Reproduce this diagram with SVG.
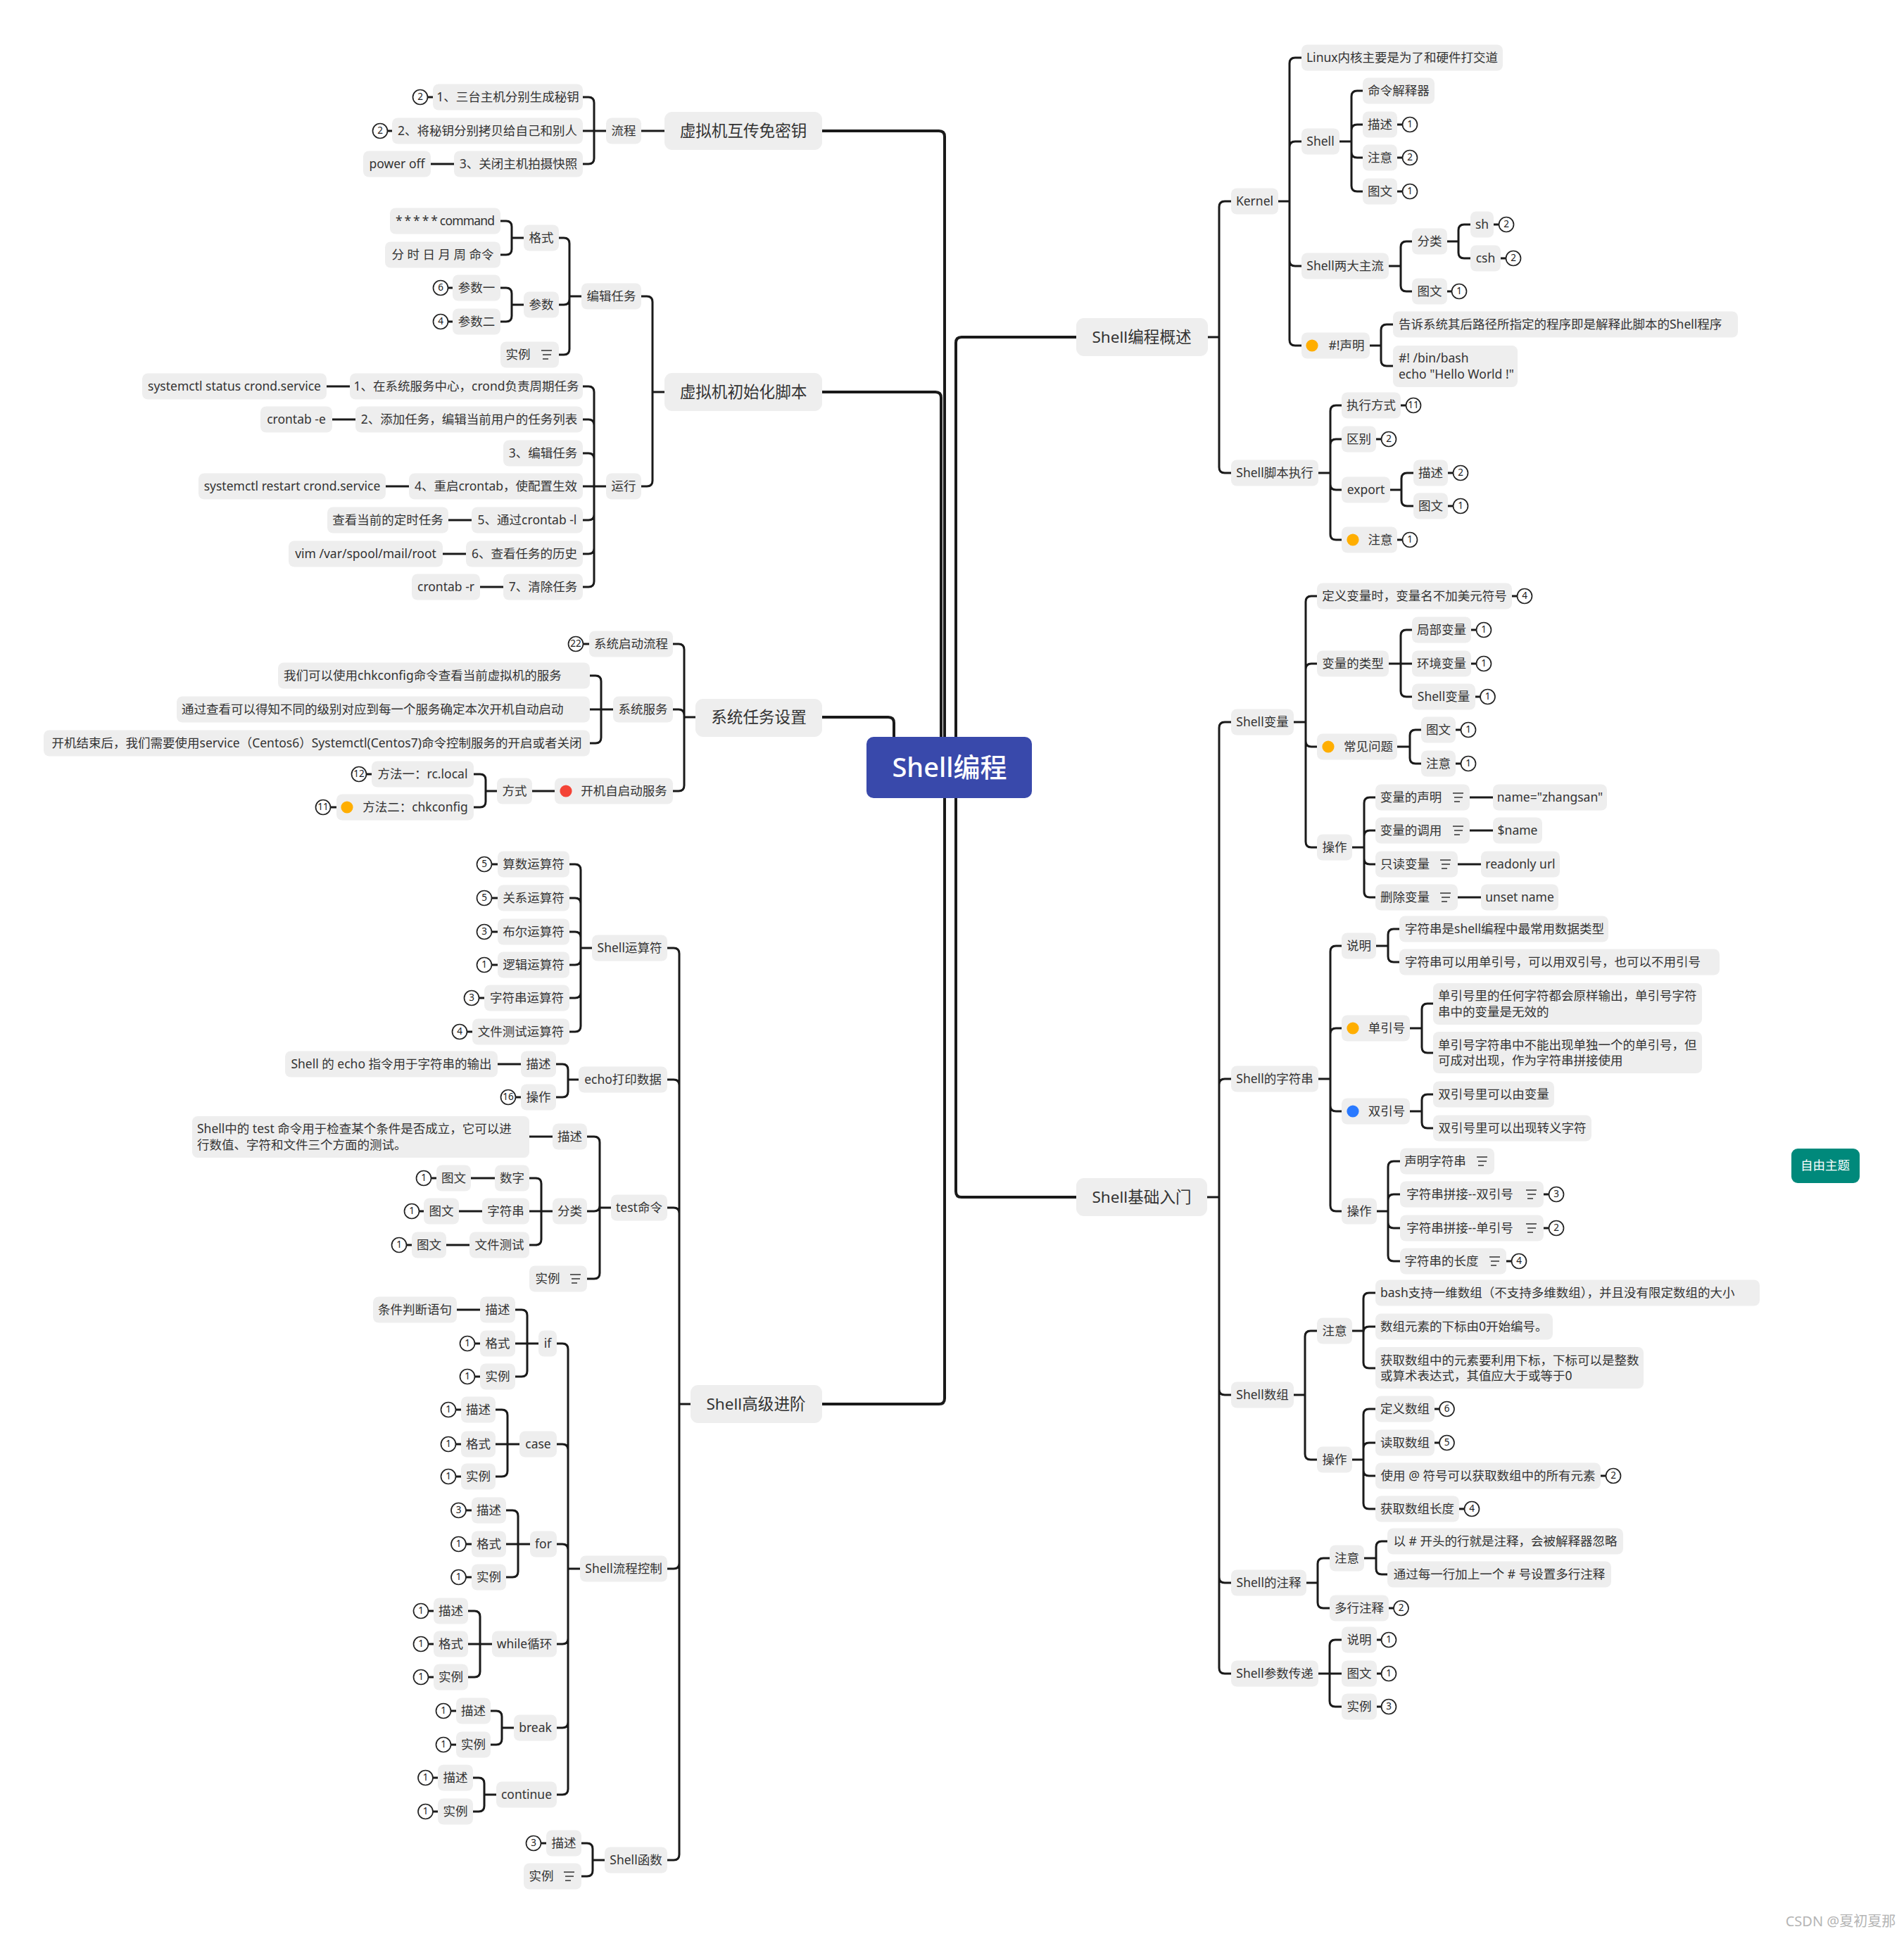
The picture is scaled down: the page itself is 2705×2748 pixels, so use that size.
<svg xmlns="http://www.w3.org/2000/svg" width="2705" height="2748" viewBox="0 0 2705 2748">
<style>
text{font-family:"Noto Sans","Noto Sans CJK SC",sans-serif;dominant-baseline:central;text-anchor:middle;fill:#333;font-size:17.5px;transform:translateY(-1px)}
.s{text-anchor:start}
.b{fill:#eee;rx:8px;height:37px}
.m{fill:#eee;rx:8px;height:59px}
.h{fill:#eee;rx:11px;height:54px}
.h2{font-size:22.6px}
.c{fill:#fff;stroke:#222;stroke-width:1.7}
.n{font-size:13.5px;fill:#222}
.l{fill:none;stroke:#1a1a1a;stroke-width:3}
.t{fill:none;stroke:#1a1a1a;stroke-width:4}
.i{fill:none;stroke:#333;stroke-width:1.7}
.o{fill:#ffae00}
</style>
<rect width="2705" height="2748" fill="#fff"/>
<g id="connectors">
<path class="t" d="M1168 186H1334q8 0 8 8V1047M1168 557H1329q8 0 8 8V1047M1168 1019H1262q8 0 8 8V1047M1168 1995H1334q8 0 8-8V1134M1529 479H1366q-8 0-8 8V1047M1529 1701H1366q-8 0-8-8V1134"/>
<path class="l" d="M944 186H911M828 138H836q8 0 8 8V225q0 8-8 8H828M861 186H828M645 233H612M615 138H608M557 186H551
M911 421H919q8 0 8 8V683q0 8-8 8H911M944 557H927
M794 338H801q8 0 8 8V496q0 8-8 8H794M826 421H809M794 433H801q8 0 8-8
M711 314H719q8 0 8 8V354q0 8-8 8H711M744 338H727
M711 409H719q8 0 8 8V449q0 8-8 8H711M744 433H727M643 409H637M643 457H637
M828 549H836q8 0 8 8V826q0 8-8 8H828M861 691H828M828 596H836q8 0 8 8M828 644H836q8 0 8 8M828 739H836q8 0 8-8M828 787H836q8 0 8-8
M497 549H464M505 596H472M581 691H548M670 739H637M662 787H629M715 834H682
M956 915H964q8 0 8 8V1116q0 8-8 8H956M988 1019H972M956 1008H964q8 0 8 8
M838 960H846q8 0 8 8V1048q0 8-8 8H838M871 1008H838
M788 1124H756M673 1100H682q8 0 8 8V1139q0 8-8 8H673M706 1124H690M837 915H829M528 1100H521M478 1147H470
M948 1347H957q8 0 8 8V2635q0 8-8 8H948M981 1995H965M948 1534H957q8 0 8 8M948 1716H957q8 0 8 8M948 2229H957q8 0 8-8
M809 1228H817q8 0 8 8V1458q0 8-8 8H809M841 1347H825M809 1276H817q8 0 8 8M809 1324H817q8 0 8 8M809 1371H817q8 0 8-8M809 1418H817q8 0 8-8
M707 1228H699M707 1276H699M707 1324H699M707 1371H699M688 1418H681M671 1466H664
M790 1512H799q8 0 8 8V1551q0 8-8 8H790M822 1534H807M740 1512H707M740 1559H733
M834 1615H844q8 0 8 8V1809q0 8-8 8H834M868 1716H852M834 1721H844q8 0 8-8M785 1615H752
M752 1674H761q8 0 8 8V1761q0 8-8 8H752M785 1721H752M703 1674H669M685 1721H652M667 1769H634M620 1674H613M602 1721H596M585 1769H578
M791 1909H799q8 0 8 8V2542q0 8-8 8H791M824 2229H807M791 2052H799q8 0 8 8M791 2194H799q8 0 8 8M791 2336H799q8 0 8-8M791 2455H799q8 0 8-8
M732 1861H741q8 0 8 8V1948q0 8-8 8H732M765 1909H732M682 1861H649M682 1909H675M682 1956H675
M704 2003H713q8 0 8 8V2090q0 8-8 8H704M738 2052H704M655 2003H648M655 2052H648M655 2098H648
M719 2146H728q8 0 8 8V2233q0 8-8 8H719M753 2194H719M670 2146H662M670 2194H662M670 2241H662
M665 2289H674q8 0 8 8V2375q0 8-8 8H665M699 2336H665M616 2289H609M616 2336H609M616 2383H609
M697 2431H705q8 0 8 8V2471q0 8-8 8H697M730 2455H713M648 2431H641M648 2479H641
M672 2526H680q8 0 8 8V2566q0 8-8 8H672M705 2550H688M622 2526H615M622 2574H615
M826 2619H834q8 0 8 8V2658q0 8-8 8H826M859 2643H842M776 2619H769
M1749 286H1740q-8 0-8 8V664q0 8 8 8H1749M1716 479H1732
M1849 82H1840q-8 0-8 8V483q0 8 8 8H1849M1816 286H1832M1849 201H1840q-8 0-8 8M1849 378H1840q-8 0-8-8
M1936 129H1928q-8 0-8 8V264q0 8 8 8H1936M1903 201H1920M1936 177H1928q-8 0-8 8M1936 224H1928q-8 0-8-8M1985 177H1992M1985 224H1992M1985 272H1992
M2006 343H1998q-8 0-8 8V406q0 8 8 8H2006M1973 378H1990
M2089 319H2080q-8 0-8 8V359q0 8 8 8H2089M2056 343H2072M2122 319H2129M2132 367H2139M2056 414H2062
M1979 461H1970q-8 0-8 8V512q0 8 8 8H1979M1946 491H1962
M1906 576H1898q-8 0-8 8V759q0 8 8 8H1906M1873 672H1890M1906 624H1898q-8 0-8 8M1906 696H1898q-8 0-8-8
M2008 672H1999q-8 0-8 8V711q0 8 8 8H2008M1975 696H1991M1990 576H1997M1955 624H1962M2057 672H2064M2057 719H2064M1985 767H1992
M1749 1026H1740q-8 0-8 8V2370q0 8 8 8H1749M1715 1701H1732M1749 1533H1740q-8 0-8 8M1749 1982H1740q-8 0-8-8M1749 2249H1740q-8 0-8-8
M1871 847H1863q-8 0-8 8V1196q0 8 8 8H1871M1838 1026H1855M1871 943H1863q-8 0-8 8M1871 1061H1863q-8 0-8-8
M2006 895H1998q-8 0-8 8V982q0 8 8 8H2006M1973 943H2006
M2019 1037H2011q-8 0-8 8V1077q0 8 8 8H2019M1985 1061H2003
M1954 1133H1946q-8 0-8 8V1267q0 8 8 8H1954M1921 1204H1938M1954 1180H1946q-8 0-8 8M1954 1228H1946q-8 0-8-8
M2088 1133H2121M2088 1180H2121M2071 1228H2104M2071 1275H2104
M2148 847H2155M2090 895H2097M2090 943H2097M2096 990H2103M2068 1037H2075M2068 1085H2075
M1906 1344H1898q-8 0-8 8V1713q0 8 8 8H1906M1873 1533H1890M1906 1461H1898q-8 0-8 8M1906 1579H1898q-8 0-8-8
M1988 1320H1980q-8 0-8 8V1359q0 8 8 8H1988M1955 1344H1972
M2036 1426H2028q-8 0-8 8V1488q0 8 8 8H2036M2003 1461H2020
M2036 1555H2028q-8 0-8 8V1595q0 8 8 8H2036M2003 1579H2020
M1989 1650H1980q-8 0-8 8V1784q0 8 8 8H1989M1956 1721H1972M1989 1697H1980q-8 0-8 8M1989 1745H1980q-8 0-8-8M2193 1697H2200M2193 1745H2200M2140 1792H2147
M1871 1891H1862q-8 0-8 8V2066q0 8 8 8H1871M1838 1982H1854
M1954 1837H1945q-8 0-8 8V1936q0 8 8 8H1954M1921 1891H1937M1954 1885H1945q-8 0-8 8
M1954 2002H1945q-8 0-8 8V2136q0 8 8 8H1954M1921 2074H1937M1954 2050H1945q-8 0-8 8M1954 2097H1945q-8 0-8-8
M2038 2002H2045M2038 2050H2045M2274 2097H2281M2073 2144H2080
M1889 2214H1880q-8 0-8 8V2277q0 8 8 8H1889M1856 2249H1872
M1971 2190H1963q-8 0-8 8V2229q0 8 8 8H1971M1938 2214H1955M1973 2285H1980
M1906 2330H1897q-8 0-8 8V2417q0 8 8 8H1906M1873 2378H1906M1956 2330H1963M1956 2378H1963M1956 2425H1963"/>
</g>
<g id="root"><rect x="1231" y="1047" width="235" height="87" rx="10" fill="#3949ab"/><text x="1349" y="1090" style="font-size:38px;font-weight:500;fill:#fff">Shell编程</text></g>
<g id="free"><rect x="2545" y="1632" width="97" height="49" rx="9" fill="#00897b"/><text x="2593" y="1656" style="fill:#fff">自由主题</text></g>
<g id="t1"><rect class="h" x="944" y="159" width="224"/><text class="h2" x="1056" y="186">虚拟机互传免密钥</text></g>
<g id="t2"><rect class="h" x="944" y="530" width="224"/><text class="h2" x="1056" y="557">虚拟机初始化脚本</text></g>
<g id="t3"><rect class="h" x="988" y="993" width="180"/><text class="h2" x="1078" y="1019">系统任务设置</text></g>
<g id="t4"><rect class="h" x="981" y="1968" width="187"/><text class="h2" x="1074" y="1995">Shell高级进阶</text></g>
<g id="t5"><rect class="h" x="1529" y="452" width="187"/><text class="h2" x="1622" y="479">Shell编程概述</text></g>
<g id="t6"><rect class="h" x="1529" y="1674" width="186"/><text class="h2" x="1622" y="1701">Shell基础入门</text></g>

<g id="a1"><rect class="b" x="861" y="167.5" width="50"/><text x="886" y="186">流程</text></g>
<g id="a2"><rect class="b" x="615" y="119.5" width="213"/><text x="721.5" y="138">1、三台主机分别生成秘钥</text><circle class="c" cx="597" cy="138" r="10.5"/><text class="n" x="597" y="138">2</text></g>
<g id="a3"><rect class="b" x="557" y="167.5" width="271"/><text x="692.5" y="186">2、将秘钥分别拷贝给自己和别人</text><circle class="c" cx="540" cy="186" r="10.5"/><text class="n" x="540" y="186">2</text></g>
<g id="a4"><rect class="b" x="645" y="214.5" width="183"/><text x="736.5" y="233">3、关闭主机拍摄快照</text></g>
<g id="a5"><rect class="b" x="516" y="214.5" width="96"/><text x="564" y="233">power off</text></g>

<g id="b1"><rect class="b" x="826" y="402.5" width="85"/><text x="868.5" y="421">编辑任务</text></g>
<g id="b2"><rect class="b" x="861" y="672.5" width="50"/><text x="886" y="691">运行</text></g>
<g id="b3"><rect class="b" x="744" y="319.5" width="50"/><text x="769" y="338">格式</text></g>
<g id="b4"><rect class="b" x="744" y="414.5" width="50"/><text x="769" y="433">参数</text></g>
<g id="b5"><rect class="b" x="711" y="485.5" width="83"/><text x="736" y="504">实例</text><path class="i" d="M769 498h15M771 504h12M771 510h8"/></g>
<g id="b6"><rect class="b" x="554" y="295.5" width="157"/><text x="632.5" y="314" textLength="141">* * * * * command</text></g>
<g id="b7"><rect class="b" x="547" y="343.5" width="164"/><text x="629" y="362">分 时 日 月 周 命令</text></g>
<g id="b8"><rect class="b" x="643" y="390.5" width="68"/><text x="677" y="409">参数一</text><circle class="c" cx="626" cy="409" r="10.5"/><text class="n" x="626" y="409">6</text></g>
<g id="b9"><rect class="b" x="643" y="438.5" width="68"/><text x="677" y="457">参数二</text><circle class="c" cx="626" cy="457" r="10.5"/><text class="n" x="626" y="457">4</text></g>
<g id="b10"><rect class="b" x="497" y="530.5" width="331"/><text x="662.5" y="549">1、在系统服务中心，crond负责周期任务</text></g>
<g id="b11"><rect class="b" x="202" y="530.5" width="262"/><text x="333" y="549">systemctl status crond.service</text></g>
<g id="b12"><rect class="b" x="505" y="577.5" width="323"/><text x="666.5" y="596">2、添加任务，编辑当前用户的任务列表</text></g>
<g id="b13"><rect class="b" x="370" y="577.5" width="102"/><text x="421" y="596">crontab -e</text></g>
<g id="b14"><rect class="b" x="715" y="625.5" width="113"/><text x="771.5" y="644">3、编辑任务</text></g>
<g id="b15"><rect class="b" x="581" y="672.5" width="247"/><text x="704.5" y="691">4、重启crontab，使配置生效</text></g>
<g id="b16"><rect class="b" x="282" y="672.5" width="266"/><text x="415" y="691">systemctl restart crond.service</text></g>
<g id="b17"><rect class="b" x="670" y="720.5" width="158"/><text x="749" y="739">5、通过crontab -l</text></g>
<g id="b18"><rect class="b" x="465" y="720.5" width="172"/><text x="551" y="739">查看当前的定时任务</text></g>
<g id="b19"><rect class="b" x="662" y="768.5" width="166"/><text x="745" y="787">6、查看任务的历史</text></g>
<g id="b20"><rect class="b" x="410" y="768.5" width="219"/><text x="519.5" y="787">vim /var/spool/mail/root</text></g>
<g id="b21"><rect class="b" x="715" y="815.5" width="113"/><text x="771.5" y="834">7、清除任务</text></g>
<g id="b22"><rect class="b" x="585" y="815.5" width="97"/><text x="633.5" y="834">crontab -r</text></g>

<g id="c1"><rect class="b" x="837" y="896.5" width="119"/><text x="896.5" y="915">系统启动流程</text><circle class="c" cx="818" cy="915" r="10.5"/><text class="n" x="818" y="915">22</text></g>
<g id="c2"><rect class="b" x="871" y="989.5" width="85"/><text x="913.5" y="1008">系统服务</text></g>
<g id="c3"><rect class="b" x="395" y="941.5" width="443"/><text class="s" x="403" y="960">我们可以使用chkconfig命令查看当前虚拟机的服务</text></g>
<g id="c4"><rect class="b" x="251" y="989.5" width="587"/><text class="s" x="258" y="1008">通过查看可以得知不同的级别对应到每一个服务确定本次开机自动启动</text></g>
<g id="c5"><rect class="b" x="62" y="1037.5" width="776"/><text x="450" y="1056">开机结束后，我们需要使用service（Centos6）Systemctl(Centos7)命令控制服务的开启或者关闭</text></g>
<g id="c6"><rect class="b" x="788" y="1105.5" width="168"/><circle cx="804" cy="1124" r="8.6" fill="#f44336"/><text x="886.5" y="1124">开机自启动服务</text></g>
<g id="c7"><rect class="b" x="706" y="1105.5" width="50"/><text x="731" y="1124">方式</text></g>
<g id="c8"><rect class="b" x="528" y="1081.5" width="145"/><text x="600.5" y="1100">方法一：rc.local</text><circle class="c" cx="510" cy="1100" r="10.5"/><text class="n" x="510" y="1100">12</text></g>
<g id="c9"><rect class="b" x="478" y="1128.5" width="195"/><circle class="o" cx="493" cy="1147" r="8.6"/><text x="590" y="1147">方法二：chkconfig</text><circle class="c" cx="459" cy="1147" r="10.5"/><text class="n" x="459" y="1147">11</text></g>

<g id="d1"><rect class="b" x="841" y="1328.5" width="107"/><text x="894.5" y="1347">Shell运算符</text></g>
<g id="d2"><rect class="b" x="707" y="1209.5" width="102"/><text x="758" y="1228">算数运算符</text><circle class="c" cx="688" cy="1228" r="10.5"/><text class="n" x="688" y="1228">5</text></g>
<g id="d3"><rect class="b" x="707" y="1257.5" width="102"/><text x="758" y="1276">关系运算符</text><circle class="c" cx="688" cy="1276" r="10.5"/><text class="n" x="688" y="1276">5</text></g>
<g id="d4"><rect class="b" x="707" y="1305.5" width="102"/><text x="758" y="1324">布尔运算符</text><circle class="c" cx="688" cy="1324" r="10.5"/><text class="n" x="688" y="1324">3</text></g>
<g id="d5"><rect class="b" x="707" y="1352.5" width="102"/><text x="758" y="1371">逻辑运算符</text><circle class="c" cx="688" cy="1371" r="10.5"/><text class="n" x="688" y="1371">1</text></g>
<g id="d6"><rect class="b" x="688" y="1399.5" width="121"/><text x="748.5" y="1418">字符串运算符</text><circle class="c" cx="670" cy="1418" r="10.5"/><text class="n" x="670" y="1418">3</text></g>
<g id="d7"><rect class="b" x="671" y="1447.5" width="138"/><text x="740" y="1466">文件测试运算符</text><circle class="c" cx="653" cy="1466" r="10.5"/><text class="n" x="653" y="1466">4</text></g>
<g id="d8"><rect class="b" x="822" y="1515.5" width="126"/><text x="885" y="1534">echo打印数据</text></g>
<g id="d9"><rect class="b" x="740" y="1493.5" width="50"/><text x="765" y="1512">描述</text></g>
<g id="d10"><rect class="b" x="405" y="1493.5" width="302"/><text x="556" y="1512">Shell 的 echo 指令用于字符串的输出</text></g>
<g id="d11"><rect class="b" x="740" y="1540.5" width="50"/><text x="765" y="1559">操作</text><circle class="c" cx="722" cy="1559" r="10.5"/><text class="n" x="722" y="1559">16</text></g>
<g id="d12"><rect class="b" x="785" y="1596.5" width="49"/><text x="809.5" y="1615">描述</text></g>
<g id="d13"><rect class="m" x="273" y="1586" width="479"/><text class="s" x="280" y="1604">Shell中的 test 命令用于检查某个条件是否成立，它可以进</text><text class="s" x="280" y="1627">行数值、字符和文件三个方面的测试。</text></g>
<g id="d14"><rect class="b" x="868" y="1697.5" width="80"/><text x="908" y="1716">test命令</text></g>
<g id="d15"><rect class="b" x="785" y="1702.5" width="49"/><text x="809.5" y="1721">分类</text></g>
<g id="d16"><rect class="b" x="703" y="1655.5" width="49"/><text x="727.5" y="1674">数字</text></g>
<g id="d17"><rect class="b" x="620" y="1655.5" width="49"/><text x="644.5" y="1674">图文</text><circle class="c" cx="602" cy="1674" r="10.5"/><text class="n" x="602" y="1674">1</text></g>
<g id="d18"><rect class="b" x="685" y="1702.5" width="67"/><text x="718.5" y="1721">字符串</text></g>
<g id="d19"><rect class="b" x="602" y="1702.5" width="50"/><text x="627" y="1721">图文</text><circle class="c" cx="585" cy="1721" r="10.5"/><text class="n" x="585" y="1721">1</text></g>
<g id="d20"><rect class="b" x="667" y="1750.5" width="85"/><text x="709.5" y="1769">文件测试</text></g>
<g id="d21"><rect class="b" x="585" y="1750.5" width="49"/><text x="609.5" y="1769">图文</text><circle class="c" cx="567" cy="1769" r="10.5"/><text class="n" x="567" y="1769">1</text></g>
<g id="d22"><rect class="b" x="752" y="1798.5" width="82"/><text x="778" y="1817">实例</text><path class="i" d="M810 1811h15M812 1817h12M812 1823h8"/></g>

<g id="e1"><rect class="b" x="824" y="2210.5" width="124"/><text x="886" y="2229">Shell流程控制</text></g>
<g id="e2"><rect class="b" x="765" y="1890.5" width="26"/><text x="778" y="1909">if</text></g>
<g id="e3"><rect class="b" x="530" y="1842.5" width="119"/><text x="589.5" y="1861">条件判断语句</text></g>
<g id="e4"><rect class="b" x="682" y="1842.5" width="50"/><text x="707" y="1861">描述</text></g>
<g id="e5"><rect class="b" x="682" y="1890.5" width="50"/><text x="707" y="1909">格式</text><circle class="c" cx="664" cy="1909" r="10.5"/><text class="n" x="664" y="1909">1</text></g>
<g id="e6"><rect class="b" x="682" y="1937.5" width="50"/><text x="707" y="1956">实例</text><circle class="c" cx="664" cy="1956" r="10.5"/><text class="n" x="664" y="1956">1</text></g>
<g id="e7"><rect class="b" x="738" y="2033.5" width="53"/><text x="764.5" y="2052">case</text></g>
<g id="e8"><rect class="b" x="655" y="1984.5" width="49"/><text x="679.5" y="2003">描述</text><circle class="c" cx="637" cy="2003" r="10.5"/><text class="n" x="637" y="2003">1</text></g>
<g id="e9"><rect class="b" x="655" y="2033.5" width="49"/><text x="679.5" y="2052">格式</text><circle class="c" cx="637" cy="2052" r="10.5"/><text class="n" x="637" y="2052">1</text></g>
<g id="e10"><rect class="b" x="655" y="2079.5" width="49"/><text x="679.5" y="2098">实例</text><circle class="c" cx="637" cy="2098" r="10.5"/><text class="n" x="637" y="2098">1</text></g>
<g id="e11"><rect class="b" x="753" y="2175.5" width="38"/><text x="772" y="2194">for</text></g>
<g id="e12"><rect class="b" x="670" y="2127.5" width="49"/><text x="694.5" y="2146">描述</text><circle class="c" cx="651.5" cy="2146" r="10.5"/><text class="n" x="651.5" y="2146">3</text></g>
<g id="e13"><rect class="b" x="670" y="2175.5" width="49"/><text x="694.5" y="2194">格式</text><circle class="c" cx="651.5" cy="2194" r="10.5"/><text class="n" x="651.5" y="2194">1</text></g>
<g id="e14"><rect class="b" x="670" y="2222.5" width="49"/><text x="694.5" y="2241">实例</text><circle class="c" cx="651.5" cy="2241" r="10.5"/><text class="n" x="651.5" y="2241">1</text></g>
<g id="e15"><rect class="b" x="699" y="2317.5" width="92"/><text x="745" y="2336">while循环</text></g>
<g id="e16"><rect class="b" x="616" y="2270.5" width="49"/><text x="640.5" y="2289">描述</text><circle class="c" cx="598" cy="2289" r="10.5"/><text class="n" x="598" y="2289">1</text></g>
<g id="e17"><rect class="b" x="616" y="2317.5" width="49"/><text x="640.5" y="2336">格式</text><circle class="c" cx="598" cy="2336" r="10.5"/><text class="n" x="598" y="2336">1</text></g>
<g id="e18"><rect class="b" x="616" y="2364.5" width="49"/><text x="640.5" y="2383">实例</text><circle class="c" cx="598" cy="2383" r="10.5"/><text class="n" x="598" y="2383">1</text></g>
<g id="e19"><rect class="b" x="730" y="2436.5" width="61"/><text x="760.5" y="2455">break</text></g>
<g id="e20"><rect class="b" x="648" y="2412.5" width="49"/><text x="672.5" y="2431">描述</text><circle class="c" cx="630" cy="2431" r="10.5"/><text class="n" x="630" y="2431">1</text></g>
<g id="e21"><rect class="b" x="648" y="2460.5" width="49"/><text x="672.5" y="2479">实例</text><circle class="c" cx="630" cy="2479" r="10.5"/><text class="n" x="630" y="2479">1</text></g>
<g id="e22"><rect class="b" x="705" y="2531.5" width="86"/><text x="748" y="2550">continue</text></g>
<g id="e23"><rect class="b" x="622" y="2507.5" width="50"/><text x="647" y="2526">描述</text><circle class="c" cx="604.5" cy="2526" r="10.5"/><text class="n" x="604.5" y="2526">1</text></g>
<g id="e24"><rect class="b" x="622" y="2555.5" width="50"/><text x="647" y="2574">实例</text><circle class="c" cx="604.5" cy="2574" r="10.5"/><text class="n" x="604.5" y="2574">1</text></g>
<g id="e25"><rect class="b" x="859" y="2624.5" width="89"/><text x="903.5" y="2643">Shell函数</text></g>
<g id="e26"><rect class="b" x="776" y="2600.5" width="50"/><text x="801" y="2619">描述</text><circle class="c" cx="758" cy="2619" r="10.5"/><text class="n" x="758" y="2619">3</text></g>
<g id="e27"><rect class="b" x="744" y="2647.5" width="82"/><text x="769" y="2666">实例</text><path class="i" d="M801 2660h15M803 2666h12M803 2672h8"/></g>

<g id="f1"><rect class="b" x="1749" y="267.5" width="67"/><text x="1782.5" y="286">Kernel</text></g>
<g id="f2"><rect class="b" x="1749" y="653.5" width="124"/><text x="1811" y="672">Shell脚本执行</text></g>
<g id="f3"><rect class="b" x="1849" y="63.5" width="286"/><text x="1992" y="82">Linux内核主要是为了和硬件打交道</text></g>
<g id="f4"><rect class="b" x="1849" y="182.5" width="54"/><text x="1876" y="201">Shell</text></g>
<g id="f5"><rect class="b" x="1849" y="359.5" width="124"/><text x="1911" y="378">Shell两大主流</text></g>
<g id="f6"><rect class="b" x="1849" y="472.5" width="97"/><circle class="o" cx="1864" cy="491" r="8.6"/><text x="1913" y="491">#!声明</text></g>
<g id="f7"><rect class="b" x="1936" y="110.5" width="102"/><text x="1987" y="129">命令解释器</text></g>
<g id="f8"><rect class="b" x="1936" y="158.5" width="49"/><text x="1960.5" y="177">描述</text><circle class="c" cx="2003" cy="177" r="10.5"/><text class="n" x="2003" y="177">1</text></g>
<g id="f9"><rect class="b" x="1936" y="205.5" width="49"/><text x="1960.5" y="224">注意</text><circle class="c" cx="2003" cy="224" r="10.5"/><text class="n" x="2003" y="224">2</text></g>
<g id="f10"><rect class="b" x="1936" y="253.5" width="49"/><text x="1960.5" y="272">图文</text><circle class="c" cx="2003" cy="272" r="10.5"/><text class="n" x="2003" y="272">1</text></g>
<g id="f11"><rect class="b" x="2006" y="324.5" width="50"/><text x="2031" y="343">分类</text></g>
<g id="f12"><rect class="b" x="2006" y="395.5" width="50"/><text x="2031" y="414">图文</text><circle class="c" cx="2073" cy="414" r="10.5"/><text class="n" x="2073" y="414">1</text></g>
<g id="f13"><rect class="b" x="2089" y="300.5" width="33"/><text x="2105.5" y="319">sh</text><circle class="c" cx="2140" cy="319" r="10.5"/><text class="n" x="2140" y="319">2</text></g>
<g id="f14"><rect class="b" x="2089" y="348.5" width="43"/><text x="2110.5" y="367">csh</text><circle class="c" cx="2150" cy="367" r="10.5"/><text class="n" x="2150" y="367">2</text></g>
<g id="f15"><rect class="b" x="1979" y="442.5" width="490"/><text class="s" x="1987" y="461">告诉系统其后路径所指定的程序即是解释此脚本的Shell程序</text></g>
<g id="f16"><rect class="m" x="1979" y="491" width="177"/><text class="s" x="1987" y="509">#! /bin/bash</text><text class="s" x="1987" y="532">echo "Hello World !"</text></g>
<g id="f17"><rect class="b" x="1906" y="557.5" width="84"/><text x="1948" y="576">执行方式</text><circle class="c" cx="2008" cy="576" r="10.5"/><text class="n" x="2008" y="576">11</text></g>
<g id="f18"><rect class="b" x="1906" y="605.5" width="49"/><text x="1930.5" y="624">区别</text><circle class="c" cx="1973" cy="624" r="10.5"/><text class="n" x="1973" y="624">2</text></g>
<g id="f19"><rect class="b" x="1906" y="677.5" width="69"/><text x="1940.5" y="696">export</text></g>
<g id="f20"><rect class="b" x="1906" y="748.5" width="79"/><circle class="o" cx="1922" cy="767" r="8.6"/><text x="1961" y="767">注意</text><circle class="c" cx="2003" cy="767" r="10.5"/><text class="n" x="2003" y="767">1</text></g>
<g id="f21"><rect class="b" x="2008" y="653.5" width="49"/><text x="2032.5" y="672">描述</text><circle class="c" cx="2075" cy="672" r="10.5"/><text class="n" x="2075" y="672">2</text></g>
<g id="f22"><rect class="b" x="2008" y="700.5" width="49"/><text x="2032.5" y="719">图文</text><circle class="c" cx="2075" cy="719" r="10.5"/><text class="n" x="2075" y="719">1</text></g>

<g id="g1"><rect class="b" x="1749" y="1007.5" width="89"/><text x="1793.5" y="1026">Shell变量</text></g>
<g id="g2"><rect class="b" x="1871" y="828.5" width="277"/><text x="2009.5" y="847">定义变量时，变量名不加美元符号</text><circle class="c" cx="2166" cy="847" r="10.5"/><text class="n" x="2166" y="847">4</text></g>
<g id="g3"><rect class="b" x="1871" y="924.5" width="102"/><text x="1922" y="943">变量的类型</text></g>
<g id="g4"><rect class="b" x="1871" y="1042.5" width="114"/><circle class="o" cx="1887" cy="1061" r="8.6"/><text x="1944" y="1061">常见问题</text></g>
<g id="g5"><rect class="b" x="1871" y="1185.5" width="50"/><text x="1896" y="1204">操作</text></g>
<g id="g6"><rect class="b" x="2006" y="876.5" width="84"/><text x="2048" y="895">局部变量</text><circle class="c" cx="2108" cy="895" r="10.5"/><text class="n" x="2108" y="895">1</text></g>
<g id="g7"><rect class="b" x="2006" y="924.5" width="84"/><text x="2048" y="943">环境变量</text><circle class="c" cx="2108" cy="943" r="10.5"/><text class="n" x="2108" y="943">1</text></g>
<g id="g8"><rect class="b" x="2006" y="971.5" width="90"/><text x="2051" y="990">Shell变量</text><circle class="c" cx="2113.5" cy="990" r="10.5"/><text class="n" x="2113.5" y="990">1</text></g>
<g id="g9"><rect class="b" x="2019" y="1018.5" width="49"/><text x="2043.5" y="1037">图文</text><circle class="c" cx="2086" cy="1037" r="10.5"/><text class="n" x="2086" y="1037">1</text></g>
<g id="g10"><rect class="b" x="2019" y="1066.5" width="49"/><text x="2043.5" y="1085">注意</text><circle class="c" cx="2086" cy="1085" r="10.5"/><text class="n" x="2086" y="1085">1</text></g>
<g id="g11"><rect class="b" x="1954" y="1114.5" width="134"/><text x="2004.5" y="1133">变量的声明</text><path class="i" d="M2064 1127h15M2066 1133h12M2066 1139h8"/></g>
<g id="g12"><rect class="b" x="2121" y="1114.5" width="162"/><text x="2202" y="1133">name="zhangsan"</text></g>
<g id="g13"><rect class="b" x="1954" y="1161.5" width="134"/><text x="2004.5" y="1180">变量的调用</text><path class="i" d="M2064 1174h15M2066 1180h12M2066 1186h8"/></g>
<g id="g14"><rect class="b" x="2121" y="1161.5" width="70"/><text x="2156" y="1180">$name</text></g>
<g id="g15"><rect class="b" x="1954" y="1209.5" width="117"/><text x="1996" y="1228">只读变量</text><path class="i" d="M2046 1222h15M2048 1228h12M2048 1234h8"/></g>
<g id="g16"><rect class="b" x="2104" y="1209.5" width="112"/><text x="2160" y="1228">readonly url</text></g>
<g id="g17"><rect class="b" x="1954" y="1256.5" width="117"/><text x="1996" y="1275">删除变量</text><path class="i" d="M2046 1269h15M2048 1275h12M2048 1281h8"/></g>
<g id="g18"><rect class="b" x="2104" y="1256.5" width="110"/><text x="2159" y="1275">unset name</text></g>

<g id="h1"><rect class="b" x="1749" y="1514.5" width="124"/><text x="1811" y="1533">Shell的字符串</text></g>
<g id="h2"><rect class="b" x="1906" y="1325.5" width="49"/><text x="1930.5" y="1344">说明</text></g>
<g id="h3"><rect class="b" x="1988" y="1301.5" width="297"/><text class="s" x="1996" y="1320">字符串是shell编程中最常用数据类型</text></g>
<g id="h4"><rect class="b" x="1988" y="1348.5" width="455"/><text class="s" x="1996" y="1367">字符串可以用单引号，可以用双引号，也可以不用引号</text></g>
<g id="h5"><rect class="b" x="1906" y="1442.5" width="97"/><circle class="o" cx="1922" cy="1461" r="8.6"/><text x="1970" y="1461">单引号</text></g>
<g id="h6"><rect class="m" x="2036" y="1397" width="382"/><text class="s" x="2043" y="1415">单引号里的任何字符都会原样输出，单引号字符</text><text class="s" x="2043" y="1438">串中的变量是无效的</text></g>
<g id="h7"><rect class="m" x="2036" y="1466" width="382"/><text class="s" x="2043" y="1485">单引号字符串中不能出现单独一个的单引号，但</text><text class="s" x="2043" y="1507">可成对出现，作为字符串拼接使用</text></g>
<g id="h8"><rect class="b" x="1906" y="1560.5" width="97"/><circle cx="1922" cy="1579" r="8.6" fill="#2979ff"/><text x="1970" y="1579">双引号</text></g>
<g id="h9"><rect class="b" x="2036" y="1536.5" width="172"/><text x="2122" y="1555">双引号里可以由变量</text></g>
<g id="h10"><rect class="b" x="2036" y="1584.5" width="225"/><text x="2148.5" y="1603">双引号里可以出现转义字符</text></g>
<g id="h11"><rect class="b" x="1906" y="1702.5" width="50"/><text x="1931" y="1721">操作</text></g>
<g id="h12"><rect class="b" x="1989" y="1631.5" width="134"/><text x="2039" y="1650">声明字符串</text><path class="i" d="M2098 1644h15M2100 1650h12M2100 1656h8"/></g>
<g id="h13"><rect class="b" x="1989" y="1678.5" width="204"/><text x="2074" y="1697">字符串拼接--双引号</text><path class="i" d="M2168 1691h15M2170 1697h12M2170 1703h8"/><circle class="c" cx="2211" cy="1697" r="10.5"/><text class="n" x="2211" y="1697">3</text></g>
<g id="h14"><rect class="b" x="1989" y="1726.5" width="204"/><text x="2074" y="1745">字符串拼接--单引号</text><path class="i" d="M2168 1739h15M2170 1745h12M2170 1751h8"/><circle class="c" cx="2211" cy="1745" r="10.5"/><text class="n" x="2211" y="1745">2</text></g>
<g id="h15"><rect class="b" x="1989" y="1773.5" width="151"/><text x="2048" y="1792">字符串的长度</text><path class="i" d="M2116 1786h15M2118 1792h12M2118 1798h8"/><circle class="c" cx="2158" cy="1792" r="10.5"/><text class="n" x="2158" y="1792">4</text></g>

<g id="i1"><rect class="b" x="1749" y="1963.5" width="89"/><text x="1793.5" y="1982">Shell数组</text></g>
<g id="i2"><rect class="b" x="1871" y="1872.5" width="50"/><text x="1896" y="1891">注意</text></g>
<g id="i3"><rect class="b" x="1871" y="2055.5" width="50"/><text x="1896" y="2074">操作</text></g>
<g id="i4"><rect class="b" x="1954" y="1818.5" width="546"/><text class="s" x="1961" y="1837">bash支持一维数组（不支持多维数组），并且没有限定数组的大小</text></g>
<g id="i5"><rect class="b" x="1954" y="1866.5" width="252"/><text class="s" x="1961" y="1885">数组元素的下标由0开始编号。</text></g>
<g id="i6"><rect class="m" x="1954" y="1914" width="381"/><text class="s" x="1961" y="1933">获取数组中的元素要利用下标，下标可以是整数</text><text class="s" x="1961" y="1955">或算术表达式，其值应大于或等于0</text></g>
<g id="i7"><rect class="b" x="1954" y="1983.5" width="84"/><text x="1996" y="2002">定义数组</text><circle class="c" cx="2055.5" cy="2002" r="10.5"/><text class="n" x="2055.5" y="2002">6</text></g>
<g id="i8"><rect class="b" x="1954" y="2031.5" width="84"/><text x="1996" y="2050">读取数组</text><circle class="c" cx="2055.5" cy="2050" r="10.5"/><text class="n" x="2055.5" y="2050">5</text></g>
<g id="i9"><rect class="b" x="1954" y="2078.5" width="320"/><text x="2114" y="2097">使用 @ 符号可以获取数组中的所有元素</text><circle class="c" cx="2292" cy="2097" r="10.5"/><text class="n" x="2292" y="2097">2</text></g>
<g id="i10"><rect class="b" x="1954" y="2125.5" width="119"/><text x="2013.5" y="2144">获取数组长度</text><circle class="c" cx="2091" cy="2144" r="10.5"/><text class="n" x="2091" y="2144">4</text></g>

<g id="j1"><rect class="b" x="1749" y="2230.5" width="107"/><text x="1802.5" y="2249">Shell的注释</text></g>
<g id="j2"><rect class="b" x="1889" y="2195.5" width="49"/><text x="1913.5" y="2214">注意</text></g>
<g id="j3"><rect class="b" x="1971" y="2171.5" width="335"/><text x="2138.5" y="2190">以 # 开头的行就是注释，会被解释器忽略</text></g>
<g id="j4"><rect class="b" x="1971" y="2218.5" width="318"/><text x="2130" y="2237">通过每一行加上一个 # 号设置多行注释</text></g>
<g id="j5"><rect class="b" x="1889" y="2266.5" width="84"/><text x="1931" y="2285">多行注释</text><circle class="c" cx="1990.5" cy="2285" r="10.5"/><text class="n" x="1990.5" y="2285">2</text></g>
<g id="k1"><rect class="b" x="1749" y="2359.5" width="124"/><text x="1811" y="2378">Shell参数传递</text></g>
<g id="k2"><rect class="b" x="1906" y="2311.5" width="50"/><text x="1931" y="2330">说明</text><circle class="c" cx="1973" cy="2330" r="10.5"/><text class="n" x="1973" y="2330">1</text></g>
<g id="k3"><rect class="b" x="1906" y="2359.5" width="50"/><text x="1931" y="2378">图文</text><circle class="c" cx="1973" cy="2378" r="10.5"/><text class="n" x="1973" y="2378">1</text></g>
<g id="k4"><rect class="b" x="1906" y="2406.5" width="50"/><text x="1931" y="2425">实例</text><circle class="c" cx="1973" cy="2425" r="10.5"/><text class="n" x="1973" y="2425">3</text></g>
<text x="2615" y="2730" style="font-size:20px;fill:#b5b5b5">CSDN @夏初夏那</text>
</svg>
